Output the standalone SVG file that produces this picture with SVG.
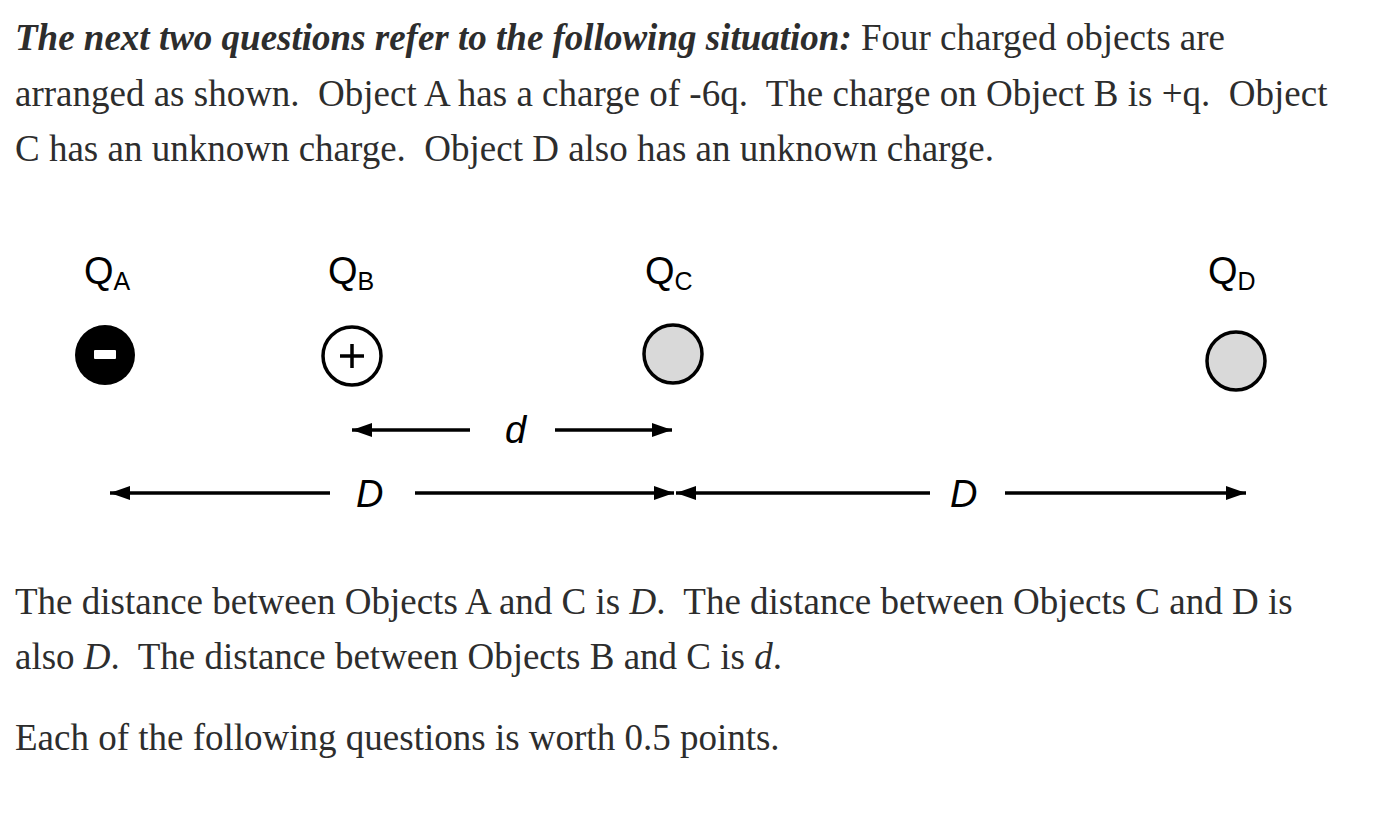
<svg xmlns="http://www.w3.org/2000/svg" width="1392" height="834" viewBox="0 0 1392 834">
<style>
.t{font-family:"Liberation Serif",serif;font-size:37px;fill:#2d2d2d;white-space:pre}
.q{font-family:"Liberation Sans",Arial,sans-serif;font-size:38px;fill:#000}
.s{font-size:25px}
.L{font-family:"Liberation Sans",Arial,sans-serif;font-size:38px;font-style:italic;fill:#000}
.ln{stroke:#000;stroke-width:3.5;fill:none}
</style>
<defs>
<marker id="a" viewBox="0 0 20 14" refX="20" refY="7" markerWidth="20" markerHeight="14" markerUnits="userSpaceOnUse" orient="auto-start-reverse"><path d="M0,0 L20,7 L0,14 z" fill="#000"/></marker>
</defs>
<rect width="1392" height="834" fill="#fff"/>
<text class="t" xml:space="preserve" x="15" y="50"><tspan font-weight="bold" font-style="italic">The next two questions refer to the following situation:</tspan> Four charged objects are</text>
<text class="t" xml:space="preserve" x="15" y="106">arranged as shown.  Object A has a charge of -6q.  The charge on Object B is +q.  Object</text>
<text class="t" xml:space="preserve" x="15" y="161">C has an unknown charge.  Object D also has an unknown charge.</text>
<g id="QA"><text class="q" x="84" y="284">Q<tspan class="s" dy="6">A</tspan></text>
<circle cx="105" cy="355" r="30" fill="#000"/><rect x="94" y="350" width="22" height="9" rx="1" fill="#fff"/></g>
<g id="QB"><text class="q" x="328" y="284">Q<tspan class="s" dy="6">B</tspan></text>
<circle cx="352" cy="356" r="29" fill="#fff" stroke="#000" stroke-width="3.5"/><path d="M340 356H364M352 344V368" class="ln"/></g>
<g id="QC"><text class="q" x="645" y="284">Q<tspan class="s" dy="6">C</tspan></text>
<circle cx="673" cy="354" r="29" fill="#d9d9d9" stroke="#000" stroke-width="3.5"/></g>
<g id="QD"><text class="q" x="1208" y="284">Q<tspan class="s" dy="6">D</tspan></text>
<circle cx="1236" cy="361" r="29" fill="#d9d9d9" stroke="#000" stroke-width="3.5"/></g>
<g id="connectors">
<line class="ln" x1="470" y1="430" x2="352" y2="430" marker-end="url(#a)"/>
<line class="ln" x1="555" y1="430" x2="672" y2="430" marker-end="url(#a)"/>
<text class="L" x="505" y="443">d</text>
<line class="ln" x1="330" y1="493" x2="110" y2="493" marker-end="url(#a)"/>
<line class="ln" x1="415" y1="493" x2="674" y2="493" marker-end="url(#a)"/>
<text class="L" x="356" y="507">D</text>
<line class="ln" x1="930" y1="493" x2="676" y2="493" marker-end="url(#a)"/>
<line class="ln" x1="1005" y1="493" x2="1246" y2="493" marker-end="url(#a)"/>
<text class="L" x="950" y="507">D</text>
</g>
<text class="t" xml:space="preserve" x="15" y="614">The distance between Objects A and C is <tspan font-style="italic">D</tspan>.  The distance between Objects C and D is</text>
<text class="t" xml:space="preserve" x="15" y="669">also <tspan font-style="italic">D</tspan>.  The distance between Objects B and C is <tspan font-style="italic">d</tspan>.</text>
<text class="t" xml:space="preserve" x="15" y="750">Each of the following questions is worth 0.5 points.</text>
</svg>
